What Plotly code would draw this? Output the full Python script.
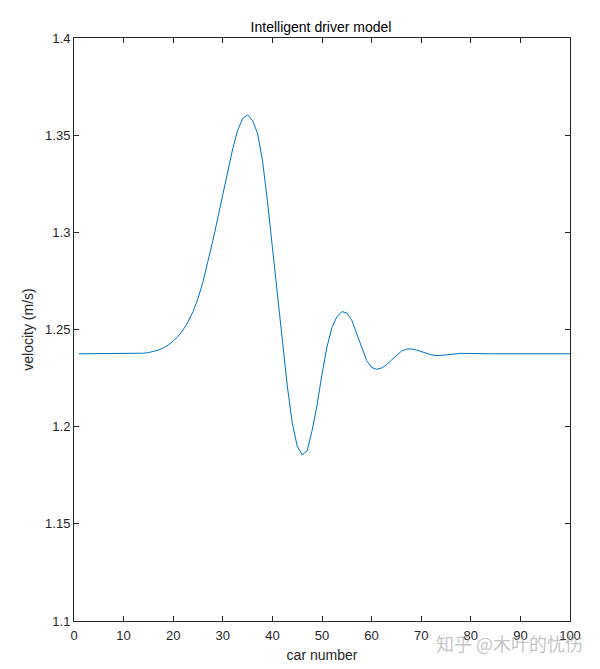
import plotly.graph_objects as go

car_number = list(range(1, 101))
velocity = (
    [1.2375] * 12
    + [1.2376, 1.2378, 1.2381, 1.2386, 1.2394, 1.2405, 1.2420, 1.2440, 1.2466, 1.2498,
       1.2540, 1.2592, 1.2660, 1.2745, 1.2848, 1.2958, 1.3075, 1.3195, 1.3315, 1.3430,
       1.3525, 1.3585, 1.3605, 1.3575, 1.3510, 1.3370, 1.3160, 1.2930, 1.2700, 1.2445,
       1.2210, 1.2020, 1.1900, 1.1855, 1.1875, 1.1980, 1.2110, 1.2270, 1.2410, 1.2510,
       1.2565, 1.2592, 1.2585, 1.2548, 1.2480, 1.2405, 1.2340, 1.2305, 1.2295, 1.2302,
       1.2318, 1.2343, 1.2368, 1.2388, 1.2399, 1.2400, 1.2395, 1.2387, 1.2378, 1.2370,
       1.2366, 1.2366, 1.2369, 1.2372, 1.2375, 1.2377, 1.2377, 1.2376]
    + [1.2375] * 20
)

x_ticks = list(range(0, 101, 10))
y_ticks = [1.1, 1.15, 1.2, 1.25, 1.3, 1.35, 1.4]
y_tick_text = ["1.1", "1.15", "1.2", "1.25", "1.3", "1.35", "1.4"]

title_text = "Intelligent driver model"
x_label = "car number"
y_label = "velocity (m/s)"
watermark = "知乎 @木叶的忧伤"

axis_color = "#262626"
font_family = "Liberation Sans, Arial, Helvetica, sans-serif"

fig = go.Figure()
fig.add_trace(go.Scatter(
    x=car_number, y=velocity, mode="lines",
    line=dict(color="#0072BD", width=1),
    showlegend=False, hoverinfo="x+y",
))

common_axis = dict(
    showline=True, linecolor=axis_color, linewidth=1, mirror="ticks",
    ticks="inside", ticklen=5, tickcolor=axis_color, tickwidth=1,
    showgrid=False, zeroline=False, automargin=False,
    tickfont=dict(family=font_family, size=13, color=axis_color),
)

fig.update_layout(
    width=600, height=669,
    margin=dict(l=74, r=30, t=38, b=48, autoexpand=False),
    paper_bgcolor="white", plot_bgcolor="white",
    font=dict(family=font_family, color=axis_color),
    title=dict(text=title_text, x=0.535, xanchor="center", y=0.96, yanchor="middle",
               font=dict(family=font_family, size=14, color="#000000")),
    xaxis=dict(range=[0, 100], tickvals=x_ticks, ticklabelstandoff=2,
               title=dict(text=x_label, standoff=8,
                          font=dict(family=font_family, size=14, color=axis_color)),
               **common_axis),
    yaxis=dict(range=[1.1, 1.4], tickvals=y_ticks, ticktext=y_tick_text,
               title=dict(text=y_label, standoff=8,
                          font=dict(family=font_family, size=14, color=axis_color)),
               **common_axis),
    annotations=[dict(
        text=watermark, xref="paper", yref="paper", x=1.03, y=-0.038,
        xanchor="right", yanchor="middle", showarrow=False,
        font=dict(family="Noto Sans CJK SC, sans-serif", size=18, color="rgba(170,170,170,0.7)"),
    )],
)

fig.write_html("out.html", config={"displayModeBar": False},
               post_script="document.body.style.margin='0';")
